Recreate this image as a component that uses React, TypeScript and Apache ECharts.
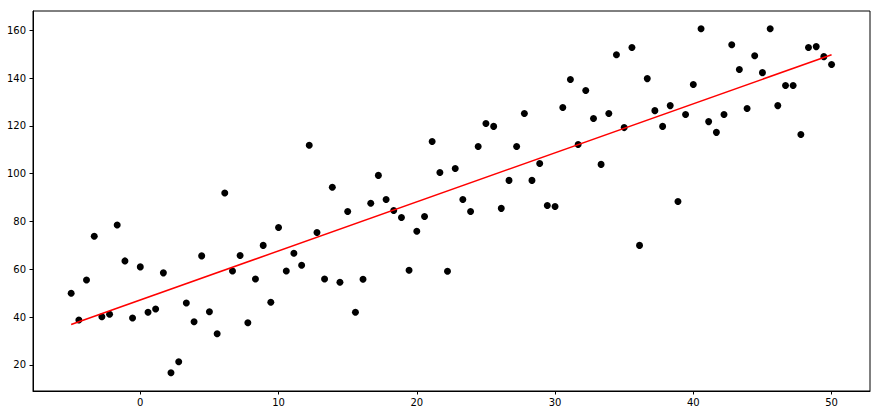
import { useEffect, useRef } from "react";
import * as echarts from "echarts";

// sample positions along x
const xValues = [
  -5.0, -4.44, -3.89, -3.33, -2.78, -2.22, -1.67, -1.11, -0.56, 0.0,
  0.56, 1.11, 1.67, 2.22, 2.78, 3.33, 3.89, 4.44, 5.0, 5.56,
  6.11, 6.67, 7.22, 7.78, 8.33, 8.89, 9.44, 10.0, 10.56, 11.11,
  11.67, 12.22, 12.78, 13.33, 13.89, 14.44, 15.0, 15.56, 16.11, 16.67,
  17.22, 17.78, 18.33, 18.89, 19.44, 20.0, 20.56, 21.11, 21.67, 22.22,
  22.78, 23.33, 23.89, 24.44, 25.0, 25.56, 26.11, 26.67, 27.22, 27.78,
  28.33, 28.89, 29.44, 30.0, 30.56, 31.11, 31.67, 32.22, 32.78, 33.33,
  33.89, 34.44, 35.0, 35.56, 36.11, 36.67, 37.22, 37.78, 38.33, 38.89,
  39.44, 40.0, 40.56, 41.11, 41.67, 42.22, 42.78, 43.33, 43.89, 44.44,
  45.0, 45.56, 46.11, 46.67, 47.22, 47.78, 48.33, 48.89, 49.44, 50.0,
];

// observed values
const yValues = [
  50.0, 38.8, 55.5, 73.8, 40.1, 41.2, 78.5, 63.5, 39.6, 61.0,
  42.0, 43.4, 58.5, 16.7, 21.3, 45.9, 38.0, 65.6, 42.2, 33.0,
  91.9, 59.3, 65.8, 37.6, 55.9, 70.0, 46.2, 77.5, 59.3, 66.7,
  61.7, 111.9, 75.4, 55.9, 94.3, 54.6, 84.2, 42.0, 55.8, 87.6,
  99.3, 89.2, 84.6, 81.7, 59.6, 75.9, 82.1, 113.5, 100.5, 59.2,
  102.2, 89.2, 84.2, 111.4, 121.0, 119.8, 85.5, 97.2, 111.4, 125.2,
  97.2, 104.3, 86.7, 86.3, 127.7, 139.4, 112.2, 134.8, 123.1, 103.9,
  125.2, 149.8, 119.3, 152.8, 70.0, 139.8, 126.4, 119.8, 128.5, 88.4,
  124.8, 137.3, 160.7, 121.8, 117.3, 124.8, 154.0, 143.6, 127.3, 149.4,
  142.3, 160.7, 128.5, 136.9, 136.9, 116.4, 152.8, 153.2, 149.0, 145.7,
];

// fitted line end points
const fitX = [-5, 50];
const fitY = [36.9, 149.8];

const xTicks = [0, 10, 20, 30, 40, 50];
const yTicks = [20, 40, 60, 80, 100, 120, 140, 160];

const labelStyle = {
  fontFamily: "DejaVu Sans",
  fontSize: 10,
  color: "#000",
};

export default function App() {
  const chartRef = useRef<HTMLDivElement>(null);

  useEffect(() => {
    document.body.style.margin = "0";
    if (!chartRef.current) return;
    const chart = echarts.init(chartRef.current, undefined, { renderer: "svg" });

    const option: echarts.EChartsOption = {
      animation: false,
      backgroundColor: "#fff",
      grid: {
        left: 33,
        right: 10,
        top: 11,
        bottom: 24,
        show: true,
        borderColor: "#000",
        borderWidth: 1,
        backgroundColor: "transparent",
      },
      xAxis: {
        type: "value",
        min: -7.76,
        max: 52.78,
        axisLine: { show: true, onZero: false, lineStyle: { color: "#000" } },
        axisTick: {
          show: true,
          length: 3.5,
          lineStyle: { color: "#000" },
          customValues: xTicks,
        } as any,
        axisLabel: { ...labelStyle, margin: 6, customValues: xTicks } as any,
        splitLine: { show: false },
      },
      yAxis: {
        type: "value",
        min: 9.05,
        max: 168.1,
        axisLine: { show: true, onZero: false, lineStyle: { color: "#000" } },
        axisTick: {
          show: true,
          length: 3.5,
          lineStyle: { color: "#000" },
          customValues: yTicks,
        } as any,
        axisLabel: { ...labelStyle, margin: 7, customValues: yTicks } as any,
        splitLine: { show: false },
      },
      series: [
        {
          type: "scatter",
          data: xValues.map((x, i) => [x, yValues[i]]),
          symbol: "circle",
          symbolSize: 7,
          itemStyle: { color: "#000", opacity: 1 },
          z: 2,
        },
        {
          type: "line",
          data: fitX.map((x, i) => [x, fitY[i]]),
          showSymbol: false,
          lineStyle: { color: "#ff0000", width: 1.5 },
          z: 3,
        },
      ],
    };

    chart.setOption(option);
    return () => chart.dispose();
  }, []);

  return <div ref={chartRef} style={{ width: 880, height: 415 }} />;
}
